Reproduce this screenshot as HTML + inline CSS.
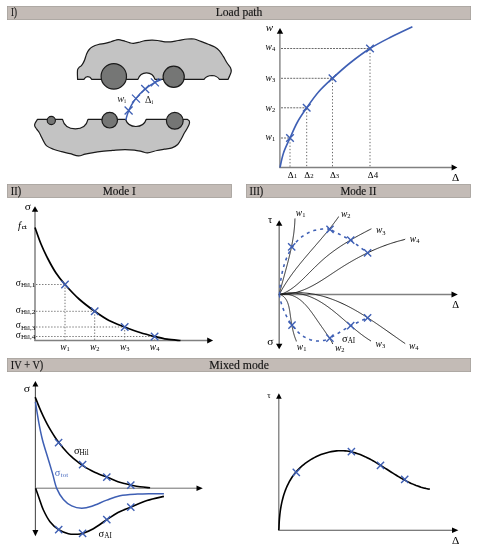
<!DOCTYPE html>
<html><head><meta charset="utf-8"><title>Load path and failure modes</title>
<style>
html,body{margin:0;padding:0;background:#fff;}
body{width:479px;height:550px;overflow:hidden;}
svg{display:block;font-family:'Liberation Serif', serif;}
</style></head>
<body>
<svg width="479" height="550" viewBox="0 0 479 550">
<rect width="479" height="550" fill="#fff"/>
<rect x="7.4" y="6.4" width="463.2" height="13.2" fill="#c3bbb6" stroke="#a39e99" stroke-width="0.8"/>
<text x="11" y="16.2" font-size="11.8" textLength="6" lengthAdjust="spacingAndGlyphs" fill="#141414" stroke="#141414" stroke-width="0.15">I)</text>
<text x="215.7" y="16.2" font-size="11.8" textLength="46.7" lengthAdjust="spacingAndGlyphs" fill="#141414" stroke="#141414" stroke-width="0.15">Load path</text>
<rect x="7.4" y="184.4" width="224.2" height="13.2" fill="#c3bbb6" stroke="#a39e99" stroke-width="0.8"/>
<text x="10.8" y="194.8" font-size="11.8" textLength="10.3" lengthAdjust="spacingAndGlyphs" fill="#141414" stroke="#141414" stroke-width="0.15">II)</text>
<text x="102.8" y="194.8" font-size="11.8" textLength="33" lengthAdjust="spacingAndGlyphs" fill="#141414" stroke="#141414" stroke-width="0.15">Mode I</text>
<rect x="246.4" y="184.4" width="224.2" height="13.2" fill="#c3bbb6" stroke="#a39e99" stroke-width="0.8"/>
<text x="249.5" y="194.8" font-size="11.8" textLength="13.8" lengthAdjust="spacingAndGlyphs" fill="#141414" stroke="#141414" stroke-width="0.15">III)</text>
<text x="340.4" y="194.8" font-size="11.8" textLength="36.05" lengthAdjust="spacingAndGlyphs" fill="#141414" stroke="#141414" stroke-width="0.15">Mode II</text>
<rect x="7.4" y="358.4" width="463.2" height="13.2" fill="#c3bbb6" stroke="#a39e99" stroke-width="0.8"/>
<text x="10.85" y="368.6" font-size="11.8" textLength="32.45" lengthAdjust="spacingAndGlyphs" fill="#141414" stroke="#141414" stroke-width="0.15">IV + V)</text>
<text x="209.3" y="368.6" font-size="11.8" textLength="59.6" lengthAdjust="spacingAndGlyphs" fill="#141414" stroke="#141414" stroke-width="0.15">Mixed mode</text>
<path d="M77.6,79.4 C77.57,78.33 77.38,74.67 77.4,73 C77.42,71.33 77.38,70.37 77.7,69.4 C78.02,68.43 78.68,67.83 79.3,67.2 C79.92,66.57 80.72,66.37 81.4,65.6 C82.08,64.83 82.83,63.62 83.4,62.6 C83.97,61.58 84.25,60.98 84.8,59.5 C85.35,58.02 85.97,55.37 86.7,53.7 C87.43,52.03 88.23,50.67 89.2,49.5 C90.17,48.33 90.97,47.53 92.5,46.7 C94.03,45.87 96.32,45.05 98.4,44.5 C100.48,43.95 102.92,43.87 105,43.4 C107.08,42.93 108.95,42.3 110.9,41.7 C112.85,41.1 115.17,40.12 116.7,39.8 C118.23,39.48 118.7,39.57 120.1,39.8 C121.5,40.03 123.43,40.68 125.1,41.2 C126.77,41.72 128.72,42.53 130.1,42.9 C131.48,43.27 132.02,43.48 133.4,43.4 C134.78,43.32 136.45,42.85 138.4,42.4 C140.35,41.95 142.87,41.07 145.1,40.7 C147.33,40.33 149.73,40.23 151.8,40.2 C153.87,40.17 155.3,40.23 157.5,40.5 C159.7,40.77 162.8,41.58 165,41.8 C167.2,42.02 168.5,42.02 170.7,41.8 C172.9,41.58 175.38,40.97 178.2,40.5 C181.02,40.03 184.93,39.25 187.6,39 C190.27,38.75 192,38.6 194.2,39 C196.4,39.4 198.45,40.53 200.8,41.4 C203.15,42.27 205.97,43.27 208.3,44.2 C210.63,45.13 212.93,45.9 214.8,47 C216.67,48.1 218.08,49.23 219.5,50.8 C220.92,52.37 222.03,54.37 223.3,56.4 C224.57,58.43 225.9,61.12 227.1,63 C228.3,64.88 229.82,66.28 230.5,67.7 C231.18,69.12 231.3,70.25 231.2,71.5 C231.1,72.75 230.43,73.88 229.9,75.2 C229.37,76.52 228.32,78.7 228,79.4 L219.5,79.4 C217.5,76.5 214.5,75.6 212,75.5 C209,75.5 206,76.5 204,79.4 L155,79.4 C153.8,75.6 151,72.9 146.5,72.9 C142,72.9 139.2,75.6 137.9,79.4 L91.8,79.4 C90.8,77.6 89.3,76.6 87.8,76.6 C86.2,76.6 84.9,77.6 83.9,79.4 Z" fill="#c3c3c3" stroke="#1a1a1a" stroke-width="1.2" stroke-linejoin="round"/>
<circle cx="113.8" cy="76.4" r="12.7" fill="#757675" stroke="#1a1a1a" stroke-width="1.2"/>
<circle cx="173.7" cy="76.8" r="10.6" fill="#757675" stroke="#1a1a1a" stroke-width="1.2"/>
<path d="M37.5,119.3 L62.5,119.3 C63.8,124.8 68,128.8 75.4,128.8 C82.8,128.8 86.8,124.8 88,119.3 L125.5,119.3 C127,123.8 130.5,126.5 135.9,126.5 C141.3,126.5 144.8,123.8 146.3,119.3 L187.1,119.3  C187.47,119.58 188.93,120.25 189.3,121 C189.67,121.75 189.67,122.55 189.3,123.8 C188.93,125.05 187.95,126.93 187.1,128.5 C186.25,130.07 185.15,131.48 184.2,133.2 C183.25,134.92 182.48,136.92 181.4,138.8 C180.32,140.68 179.27,142.98 177.7,144.5 C176.13,146.02 174.2,147.12 172,147.9 C169.8,148.68 167,148.77 164.5,149.2 C162,149.63 159.82,149.88 157,150.5 C154.18,151.12 150.1,152.72 147.6,152.9 C145.1,153.08 144.2,152.07 142,151.6 C139.8,151.13 137.23,150.42 134.4,150.1 C131.57,149.78 128.13,149.7 125,149.7 C121.87,149.7 118.1,149.93 115.6,150.1 C113.1,150.27 112.3,150.48 110,150.7 C107.7,150.92 104.57,151.08 101.8,151.4 C99.03,151.72 96.18,152.13 93.4,152.6 C90.62,153.07 87.6,153.65 85.1,154.2 C82.6,154.75 80.9,155.98 78.4,155.9 C75.9,155.82 72.88,154.4 70.1,153.7 C67.32,153 64.48,152.45 61.7,151.7 C58.92,150.95 55.9,150.17 53.4,149.2 C50.9,148.23 48.37,147.28 46.7,145.9 C45.03,144.52 44.37,142.57 43.4,140.9 C42.43,139.23 41.6,137.3 40.9,135.9 C40.2,134.5 39.9,133.62 39.2,132.5 C38.5,131.38 37.45,130.3 36.7,129.2 C35.95,128.1 34.98,126.87 34.7,125.9 C34.42,124.93 34.53,124.5 35,123.4 C35.47,122.3 37.08,119.98 37.5,119.3 Z" fill="#c3c3c3" stroke="#1a1a1a" stroke-width="1.2" stroke-linejoin="round"/>
<circle cx="51.3" cy="120.5" r="4.1" fill="#757675" stroke="#1a1a1a" stroke-width="1.1"/>
<circle cx="109.7" cy="120.2" r="7.8" fill="#757675" stroke="#1a1a1a" stroke-width="1.2"/>
<circle cx="174.8" cy="120.8" r="8.4" fill="#757675" stroke="#1a1a1a" stroke-width="1.2"/>
<path d="M126,120 L126.12,119.03 L126.33,118.11 L126.56,117.19 L126.8,116.27 L127.07,115.36 L127.35,114.46 L127.65,113.56 L127.97,112.67 L128.3,111.79 L128.66,110.91 L129.03,110.04 L129.41,109.17 L129.81,108.32 L130.23,107.47 L130.67,106.62 L131.12,105.79 L131.58,104.96 L132.06,104.14 L132.56,103.33 L133.07,102.52 L133.59,101.73 L134.13,100.94 L134.68,100.17 L135.24,99.4 L135.82,98.64 L136.41,97.89 L137.01,97.15 L137.63,96.42 L138.26,95.7 L138.9,94.98 L139.55,94.28 L140.21,93.59 L140.88,92.91 L141.57,92.24 L142.26,91.59 L142.97,90.94 L143.68,90.3 L144.41,89.68 L145.14,89.07 L145.89,88.47 L146.64,87.88 L147.4,87.3 L148.17,86.73 L148.95,86.18 L149.73,85.64 L150.53,85.12 L151.33,84.6 L152.14,84.1 L152.95,83.61 L153.77,83.14 L154.6,82.68 L155.43,82.23 L156.27,81.8 L157.12,81.38 L157.97,80.98 L158.82,80.59 L159.68,80.22 L160.55,79.86 L161.5,79.6" fill="none" stroke="#3e5fb4" stroke-width="1.5"/>
<path d="M124.6,106.5 L132.6,114.5 M124.6,114.5 L132.6,106.5" stroke="#3e5fb4" stroke-width="1.3" fill="none"/>
<path d="M132,94.6 L140,102.6 M132,102.6 L140,94.6" stroke="#3e5fb4" stroke-width="1.3" fill="none"/>
<path d="M141.2,85 L149.2,93 M141.2,93 L149.2,85" stroke="#3e5fb4" stroke-width="1.3" fill="none"/>
<path d="M150.9,78.4 L158.9,86.4 M150.9,86.4 L158.9,78.4" stroke="#3e5fb4" stroke-width="1.3" fill="none"/>
<text x="117.3" y="101.8" font-size="10.5" fill="#222"><tspan font-style="italic">w</tspan><tspan font-size="6" dy="1.2" font-style="normal">i</tspan></text>
<text x="145" y="103.1" font-size="10" fill="#222">&#916;<tspan font-size="6" dy="0.6">i</tspan></text>
<line x1="279.9" y1="168" x2="279.9" y2="32" stroke="#8a8a8a" stroke-width="1.5" />
<path d="M280,28 L276.8,33.7 L283.2,33.7 Z" fill="#000"/>
<line x1="279.3" y1="167.6" x2="453" y2="167.6" stroke="#808080" stroke-width="1.5" />
<path d="M457.4,167.6 L451.6,164.6 L451.6,170.6 Z" fill="#000"/>
<line x1="281" y1="138" x2="290" y2="138" stroke="#6a6a6a" stroke-width="1" stroke-dasharray="2 1.06"/>
<line x1="290" y1="139" x2="290" y2="167" stroke="#666" stroke-width="1" stroke-dasharray="1.3 2.0"/>
<line x1="281" y1="107.8" x2="306.7" y2="107.8" stroke="#6a6a6a" stroke-width="1" stroke-dasharray="2 1.06"/>
<line x1="306.7" y1="108.8" x2="306.7" y2="167" stroke="#666" stroke-width="1" stroke-dasharray="1.3 2.0"/>
<line x1="281" y1="78.3" x2="332.5" y2="78.3" stroke="#6a6a6a" stroke-width="1" stroke-dasharray="2 1.06"/>
<line x1="332.5" y1="79.3" x2="332.5" y2="167" stroke="#666" stroke-width="1" stroke-dasharray="1.3 2.0"/>
<line x1="281" y1="48.5" x2="370" y2="48.5" stroke="#6a6a6a" stroke-width="1" stroke-dasharray="2 1.06"/>
<line x1="370" y1="49.5" x2="370" y2="167" stroke="#666" stroke-width="1" stroke-dasharray="1.3 2.0"/>
<path d="M280,167.5 C280.58,165.08 281.83,157.92 283.5,153 C285.17,148.08 287.67,143.17 290,138 C292.33,132.83 294.72,127.03 297.5,122 C300.28,116.97 303.2,112.8 306.7,107.8 C310.2,102.8 314.2,96.92 318.5,92 C322.8,87.08 327.25,83.13 332.5,78.3 C337.75,73.47 343.75,67.97 350,63 C356.25,58.03 363.17,52.83 370,48.5 C376.83,44.17 383.93,40.63 391,37 C398.07,33.37 408.83,28.42 412.4,26.7" fill="none" stroke="#3e5fb4" stroke-width="1.6"/>
<path d="M286.2,134.2 L293.8,141.8 M286.2,141.8 L293.8,134.2" stroke="#3e5fb4" stroke-width="1.4" fill="none"/>
<path d="M302.9,104 L310.5,111.6 M302.9,111.6 L310.5,104" stroke="#3e5fb4" stroke-width="1.4" fill="none"/>
<path d="M328.7,74.5 L336.3,82.1 M328.7,82.1 L336.3,74.5" stroke="#3e5fb4" stroke-width="1.4" fill="none"/>
<path d="M366.2,44.7 L373.8,52.3 M366.2,52.3 L373.8,44.7" stroke="#3e5fb4" stroke-width="1.4" fill="none"/>
<text x="265.8" y="30.9" font-size="11" text-anchor="start" fill="#000" font-style="italic" >w</text>
<text x="265.6" y="139.8" font-size="9.5" fill="#000"><tspan font-style="italic">w</tspan><tspan font-size="6.5" dy="1" font-style="normal">1</tspan></text>
<text x="265.6" y="111" font-size="9.5" fill="#000"><tspan font-style="italic">w</tspan><tspan font-size="6.5" dy="1" font-style="normal">2</tspan></text>
<text x="265.6" y="80.6" font-size="9.5" fill="#000"><tspan font-style="italic">w</tspan><tspan font-size="6.5" dy="1" font-style="normal">3</tspan></text>
<text x="265.6" y="49.9" font-size="9.5" fill="#000"><tspan font-style="italic">w</tspan><tspan font-size="6.5" dy="1" font-style="normal">4</tspan></text>
<text x="287.8" y="177.6" font-size="9.2" fill="#000">&#916;<tspan font-size="6.8" dy="0.8">1</tspan></text>
<text x="304.3" y="177.6" font-size="9.2" fill="#000">&#916;<tspan font-size="6.8" dy="0.8">2</tspan></text>
<text x="329.9" y="177.6" font-size="9.2" fill="#000">&#916;<tspan font-size="6.8" dy="0.8">3</tspan></text>
<text x="373" y="178.3" font-size="9" text-anchor="middle" fill="#000" >&#916;4</text>
<text x="451.9" y="180.6" font-size="10" text-anchor="start" fill="#000" textLength="7.2" lengthAdjust="spacingAndGlyphs">&#916;</text>
<line x1="35" y1="341" x2="35" y2="210" stroke="#808080" stroke-width="1.5" />
<path d="M35,206.3 L31.8,211.7 L38.2,211.7 Z" fill="#000"/>
<line x1="34.3" y1="340.5" x2="209" y2="340.5" stroke="#808080" stroke-width="1.5" />
<path d="M213.1,340.5 L207.2,337.5 L207.2,343.5 Z" fill="#000"/>
<line x1="36" y1="284.5" x2="65" y2="284.5" stroke="#777" stroke-width="1" stroke-dasharray="1.4 1.63"/>
<line x1="65" y1="284.5" x2="65" y2="340" stroke="#777" stroke-width="1" stroke-dasharray="1.4 1.63"/>
<line x1="36" y1="311.3" x2="94.7" y2="311.3" stroke="#777" stroke-width="1" stroke-dasharray="1.4 1.63"/>
<line x1="94.7" y1="311.3" x2="94.7" y2="340" stroke="#777" stroke-width="1" stroke-dasharray="1.4 1.63"/>
<line x1="36" y1="327" x2="124.7" y2="327" stroke="#777" stroke-width="1" stroke-dasharray="1.4 1.63"/>
<line x1="124.7" y1="327" x2="124.7" y2="340" stroke="#777" stroke-width="1" stroke-dasharray="1.4 1.63"/>
<line x1="36" y1="336.5" x2="154.6" y2="336.5" stroke="#777" stroke-width="1" stroke-dasharray="1.4 1.63"/>
<line x1="154.6" y1="336.5" x2="154.6" y2="340" stroke="#777" stroke-width="1" stroke-dasharray="1.4 1.63"/>
<path d="M35,227.5 C36,230.25 38.83,238.75 41,244 C43.17,249.25 45.5,254.17 48,259 C50.5,263.83 53.17,268.75 56,273 C58.83,277.25 61.17,280.17 65,284.5 C68.83,288.83 74.05,294.53 79,299 C83.95,303.47 89.7,307.72 94.7,311.3 C99.7,314.88 104,317.88 109,320.5 C114,323.12 119.53,325 124.7,327 C129.87,329 135.02,330.92 140,332.5 C144.98,334.08 150.1,335.38 154.6,336.5 C159.1,337.62 162.68,338.53 167,339.2 C171.32,339.87 178.25,340.28 180.5,340.5" fill="none" stroke="#000" stroke-width="1.7"/>
<path d="M61.3,280.8 L68.7,288.2 M61.3,288.2 L68.7,280.8" stroke="#3e5fb4" stroke-width="1.4" fill="none"/>
<path d="M91,307.6 L98.4,315 M91,315 L98.4,307.6" stroke="#3e5fb4" stroke-width="1.4" fill="none"/>
<path d="M121,323.3 L128.4,330.7 M121,330.7 L128.4,323.3" stroke="#3e5fb4" stroke-width="1.4" fill="none"/>
<path d="M150.9,332.8 L158.3,340.2 M150.9,340.2 L158.3,332.8" stroke="#3e5fb4" stroke-width="1.4" fill="none"/>
<text x="24.8" y="210.3" font-size="11" text-anchor="start" fill="#000" textLength="6.2" lengthAdjust="spacingAndGlyphs">&#963;</text>
<text x="17.9" y="228.6" font-size="10.5" fill="#000"><tspan font-style="italic">f</tspan><tspan font-size="6.6" dx="0.9" dy="0.5" stroke="#000" stroke-width="0.2">ct</tspan></text>
<text x="15.8" y="285.8" font-size="9.5" fill="#000">&#963;<tspan font-size="6.6" dy="1.6" textLength="14.4" lengthAdjust="spacingAndGlyphs">Hil,1</tspan></text>
<text x="15.8" y="312.6" font-size="9.5" fill="#000">&#963;<tspan font-size="6.6" dy="1.6" textLength="14.4" lengthAdjust="spacingAndGlyphs">Hil,2</tspan></text>
<text x="15.8" y="328.3" font-size="9.5" fill="#000">&#963;<tspan font-size="6.6" dy="1.6" textLength="14.4" lengthAdjust="spacingAndGlyphs">Hil,3</tspan></text>
<text x="15.8" y="337.8" font-size="9.5" fill="#000">&#963;<tspan font-size="6.6" dy="1.6" textLength="14.4" lengthAdjust="spacingAndGlyphs">Hil,4</tspan></text>
<text x="65" y="349.5" font-size="9.5" fill="#000" text-anchor="middle"><tspan font-style="italic">w</tspan><tspan font-size="6.5" dy="1.2" font-style="normal">1</tspan></text>
<text x="94.7" y="349.5" font-size="9.5" fill="#000" text-anchor="middle"><tspan font-style="italic">w</tspan><tspan font-size="6.5" dy="1.2" font-style="normal">2</tspan></text>
<text x="124.7" y="349.5" font-size="9.5" fill="#000" text-anchor="middle"><tspan font-style="italic">w</tspan><tspan font-size="6.5" dy="1.2" font-style="normal">3</tspan></text>
<text x="154.6" y="349.5" font-size="9.5" fill="#000" text-anchor="middle"><tspan font-style="italic">w</tspan><tspan font-size="6.5" dy="1.2" font-style="normal">4</tspan></text>
<line x1="279.2" y1="224" x2="279.2" y2="346" stroke="#808080" stroke-width="1.5" />
<path d="M279.2,220.3 L276,225.8 L282.4,225.8 Z" fill="#000"/>
<path d="M279.2,349.2 L276,343.7 L282.4,343.7 Z" fill="#000"/>
<line x1="278.5" y1="294.6" x2="453" y2="294.6" stroke="#808080" stroke-width="1.5" />
<path d="M457.8,294.6 L451.5,291.6 L451.5,297.6 Z" fill="#000"/>
<path d="M279.2,294.6 L279.34,293.96 L279.5,293.33 L279.66,292.7 L279.82,292.06 L279.99,291.43 L280.15,290.8 L280.32,290.16 L280.48,289.53 L280.65,288.9 L280.81,288.26 L280.98,287.63 L281.15,287 L281.32,286.37 L281.49,285.73 L281.66,285.1 L281.83,284.47 L282,283.84 L282.17,283.21 L282.35,282.57 L282.52,281.94 L282.69,281.31 L282.86,280.68 L283.04,280.05 L283.21,279.41 L283.38,278.78 L283.56,278.15 L283.73,277.52 L283.91,276.89 L284.08,276.26 L284.25,275.62 L284.43,274.99 L284.6,274.36 L284.78,273.73 L284.95,273.1 L285.12,272.46 L285.29,271.83 L285.47,271.2 L285.64,270.57 L285.81,269.93 L285.98,269.3 L286.15,268.67 L286.33,268.04 L286.5,267.4 L286.67,266.77 L286.83,266.14 L287,265.5 L287.17,264.87 L287.34,264.24 L287.5,263.6 L287.67,262.97 L287.83,262.34 L288,261.7 L288.16,261.07 L288.32,260.43 L288.48,259.8 L288.64,259.16 L288.8,258.53 L288.96,257.89 L289.11,257.26 L289.27,256.62 L289.42,255.98 L289.58,255.35 L289.73,254.71 L289.88,254.08 L290.03,253.44 L290.17,252.8 L290.32,252.16 L290.46,251.53 L290.61,250.89 L290.75,250.25 L290.89,249.61 L291.03,248.97 L291.16,248.33 L291.3,247.69 L291.43,247.05 L291.56,246.41 L291.69,245.77 L291.82,245.13 L291.94,244.49 L292.07,243.85 L292.19,243.21 L292.31,242.57 L292.42,241.92 L292.54,241.28 L292.65,240.64 L292.76,239.99 L292.87,239.35 L292.98,238.7 L293.08,238.06 L293.18,237.41 L293.28,236.77 L293.38,236.12 L293.47,235.47 L293.57,234.83 L293.66,234.18 L293.74,233.53 L293.83,232.88 L293.91,232.23 L293.99,231.58 L294.06,230.93 L294.14,230.28 L294.21,229.63 L294.28,228.98 L294.34,228.33 L294.4,227.68 L294.46,227.02 L294.52,226.37 L294.57,225.72 L294.62,225.06 L294.67,224.41 L294.71,223.75 L294.75,223.1 L294.79,222.44 L294.82,221.78 L294.85,221.12 L294.88,220.47 L294.9,219.81 L294.92,219.15 L295,218.5" fill="none" stroke="#222" stroke-width="1"/>
<path d="M279.2,294.6 L279.58,293.88 L279.97,293.14 L280.36,292.41 L280.76,291.68 L281.16,290.96 L281.57,290.23 L281.98,289.51 L282.39,288.8 L282.81,288.08 L283.23,287.37 L283.66,286.66 L284.09,285.95 L284.52,285.25 L284.96,284.55 L285.4,283.85 L285.84,283.15 L286.29,282.46 L286.74,281.77 L287.2,281.08 L287.65,280.39 L288.12,279.71 L288.58,279.03 L289.05,278.35 L289.52,277.67 L289.99,277 L290.46,276.32 L290.94,275.65 L291.42,274.98 L291.91,274.31 L292.39,273.65 L292.88,272.98 L293.37,272.32 L293.87,271.66 L294.36,271 L294.86,270.35 L295.36,269.69 L295.87,269.04 L296.37,268.39 L296.88,267.73 L297.39,267.09 L297.9,266.44 L298.41,265.79 L298.93,265.15 L299.44,264.5 L299.96,263.86 L300.48,263.22 L301,262.58 L301.53,261.94 L302.05,261.3 L302.58,260.67 L303.1,260.03 L303.63,259.39 L304.16,258.76 L304.69,258.13 L305.22,257.49 L305.76,256.86 L306.29,256.23 L306.83,255.6 L307.36,254.97 L307.9,254.34 L308.43,253.71 L308.97,253.09 L309.51,252.46 L310.05,251.83 L310.59,251.21 L311.13,250.58 L311.67,249.95 L312.21,249.33 L312.75,248.7 L313.29,248.08 L313.83,247.45 L314.37,246.83 L314.91,246.2 L315.45,245.58 L315.99,244.95 L316.53,244.33 L317.07,243.7 L317.61,243.07 L318.15,242.45 L318.68,241.82 L319.22,241.2 L319.76,240.57 L320.29,239.94 L320.83,239.32 L321.37,238.69 L321.9,238.06 L322.43,237.43 L322.96,236.8 L323.5,236.17 L324.03,235.54 L324.55,234.91 L325.08,234.27 L325.61,233.64 L326.13,233.01 L326.66,232.37 L327.18,231.73 L327.7,231.1 L328.22,230.46 L328.74,229.82 L329.25,229.18 L329.76,228.54 L330.28,227.89 L330.79,227.25 L331.29,226.6 L331.8,225.96 L332.3,225.31 L332.81,224.66 L333.3,224.01 L333.8,223.36 L334.3,222.7 L334.79,222.05 L335.28,221.39 L335.77,220.73 L336.25,220.07 L336.73,219.41 L337.21,218.74 L337.69,218.08 L338.16,217.41 L338.5,216.6" fill="none" stroke="#222" stroke-width="1"/>
<path d="M279.2,294.6 L280.33,294.59 L281.25,294.26 L282.15,293.9 L283.04,293.53 L283.92,293.14 L284.78,292.74 L285.64,292.31 L286.48,291.87 L287.31,291.42 L288.13,290.95 L288.94,290.46 L289.74,289.96 L290.53,289.45 L291.31,288.92 L292.08,288.38 L292.84,287.83 L293.6,287.27 L294.34,286.7 L295.08,286.11 L295.82,285.52 L296.54,284.92 L297.27,284.31 L297.98,283.69 L298.69,283.06 L299.4,282.42 L300.1,281.78 L300.79,281.13 L301.49,280.48 L302.18,279.82 L302.86,279.16 L303.55,278.49 L304.23,277.82 L304.91,277.15 L305.59,276.47 L306.27,275.8 L306.95,275.12 L307.63,274.44 L308.31,273.76 L308.99,273.08 L309.67,272.39 L310.35,271.71 L311.03,271.03 L311.71,270.35 L312.39,269.67 L313.07,268.99 L313.76,268.32 L314.44,267.64 L315.13,266.97 L315.82,266.29 L316.51,265.62 L317.21,264.96 L317.91,264.29 L318.6,263.63 L319.31,262.97 L320.01,262.31 L320.72,261.66 L321.43,261.01 L322.14,260.37 L322.86,259.73 L323.59,259.09 L324.31,258.46 L325.04,257.84 L325.78,257.22 L326.51,256.6 L327.26,255.99 L328,255.39 L328.75,254.79 L329.51,254.19 L330.27,253.6 L331.03,253.02 L331.8,252.44 L332.57,251.86 L333.34,251.29 L334.12,250.72 L334.9,250.16 L335.68,249.6 L336.47,249.05 L337.26,248.5 L338.05,247.96 L338.85,247.42 L339.65,246.88 L340.45,246.35 L341.25,245.82 L342.06,245.29 L342.87,244.77 L343.68,244.25 L344.5,243.74 L345.31,243.23 L346.13,242.72 L346.96,242.22 L347.78,241.72 L348.61,241.22 L349.43,240.73 L350.26,240.24 L351.1,239.75 L351.93,239.27 L352.76,238.79 L353.6,238.31 L354.44,237.83 L355.28,237.36 L356.12,236.89 L356.96,236.42 L357.81,235.95 L358.65,235.49 L359.5,235.03 L360.34,234.57 L361.19,234.11 L362.04,233.66 L362.89,233.21 L363.74,232.76 L364.59,232.31 L365.44,231.86 L366.29,231.42 L367.14,230.97 L367.99,230.53 L368.84,230.09 L369.69,229.65 L370.55,229.22 L371.4,228.8" fill="none" stroke="#222" stroke-width="1"/>
<path d="M279.2,294.6 L280.34,294.55 L281.58,294.55 L282.81,294.51 L284.03,294.45 L285.24,294.37 L286.44,294.26 L287.63,294.13 L288.81,293.97 L289.99,293.79 L291.15,293.58 L292.3,293.36 L293.44,293.11 L294.58,292.84 L295.7,292.55 L296.82,292.24 L297.93,291.91 L299.03,291.57 L300.13,291.2 L301.21,290.82 L302.29,290.42 L303.37,290 L304.43,289.57 L305.49,289.12 L306.55,288.66 L307.6,288.18 L308.64,287.69 L309.68,287.18 L310.71,286.67 L311.74,286.14 L312.76,285.6 L313.78,285.05 L314.79,284.48 L315.8,283.91 L316.81,283.33 L317.81,282.74 L318.81,282.15 L319.8,281.54 L320.8,280.93 L321.79,280.31 L322.78,279.69 L323.76,279.06 L324.75,278.42 L325.73,277.79 L326.71,277.15 L327.69,276.5 L328.67,275.85 L329.65,275.21 L330.63,274.55 L331.61,273.9 L332.58,273.25 L333.56,272.6 L334.54,271.95 L335.52,271.3 L336.5,270.66 L337.48,270.01 L338.46,269.37 L339.45,268.74 L340.44,268.11 L341.42,267.48 L342.41,266.85 L343.4,266.23 L344.4,265.61 L345.39,265 L346.39,264.39 L347.39,263.79 L348.39,263.19 L349.39,262.6 L350.4,262.01 L351.41,261.42 L352.42,260.84 L353.43,260.26 L354.44,259.69 L355.46,259.12 L356.48,258.56 L357.5,258.01 L358.52,257.45 L359.55,256.91 L360.57,256.36 L361.6,255.83 L362.64,255.3 L363.67,254.77 L364.71,254.25 L365.75,253.74 L366.8,253.23 L367.84,252.72 L368.89,252.22 L369.95,251.73 L371,251.24 L372.06,250.76 L373.12,250.29 L374.18,249.82 L375.25,249.36 L376.32,248.9 L377.39,248.45 L378.47,248.01 L379.55,247.57 L380.63,247.14 L381.72,246.71 L382.81,246.29 L383.9,245.88 L385,245.47 L386.1,245.07 L387.2,244.68 L388.31,244.3 L389.42,243.92 L390.53,243.55 L391.65,243.18 L392.77,242.82 L393.89,242.47 L395.02,242.13 L396.15,241.79 L397.29,241.46 L398.43,241.14 L399.57,240.83 L400.72,240.52 L401.87,240.22 L403.02,239.93 L404.18,239.65 L405.2,239.1" fill="none" stroke="#222" stroke-width="1"/>
<path d="M279.2,294.6 L279.96,294.35 L280.37,294.52 L280.77,294.71 L281.16,294.9 L281.53,295.1 L281.9,295.32 L282.25,295.54 L282.59,295.77 L282.92,296.02 L283.24,296.27 L283.55,296.52 L283.85,296.79 L284.14,297.07 L284.41,297.35 L284.68,297.64 L284.94,297.94 L285.19,298.24 L285.43,298.56 L285.67,298.88 L285.89,299.21 L286.11,299.54 L286.32,299.88 L286.52,300.23 L286.71,300.58 L286.89,300.94 L287.07,301.3 L287.24,301.67 L287.41,302.05 L287.56,302.43 L287.72,302.82 L287.86,303.21 L288,303.61 L288.13,304.01 L288.26,304.41 L288.38,304.82 L288.5,305.23 L288.62,305.65 L288.73,306.07 L288.83,306.5 L288.93,306.92 L289.03,307.35 L289.12,307.79 L289.21,308.22 L289.29,308.66 L289.38,309.1 L289.46,309.55 L289.54,309.99 L289.61,310.44 L289.68,310.89 L289.76,311.34 L289.83,311.79 L289.89,312.24 L289.96,312.69 L290.03,313.15 L290.09,313.6 L290.16,314.06 L290.22,314.51 L290.29,314.97 L290.35,315.42 L290.41,315.88 L290.48,316.33 L290.54,316.79 L290.61,317.24 L290.67,317.69 L290.74,318.15 L290.81,318.6 L290.87,319.05 L290.94,319.51 L291.01,319.96 L291.08,320.41 L291.14,320.86 L291.21,321.31 L291.28,321.76 L291.36,322.21 L291.43,322.66 L291.5,323.1 L291.58,323.55 L291.65,324 L291.73,324.44 L291.81,324.89 L291.89,325.33 L291.97,325.77 L292.05,326.22 L292.14,326.66 L292.22,327.1 L292.31,327.54 L292.4,327.97 L292.49,328.41 L292.58,328.85 L292.68,329.28 L292.77,329.71 L292.87,330.15 L292.97,330.58 L293.07,331.01 L293.18,331.44 L293.28,331.86 L293.39,332.29 L293.5,332.71 L293.62,333.14 L293.73,333.56 L293.85,333.98 L293.97,334.4 L294.1,334.82 L294.22,335.23 L294.35,335.64 L294.48,336.06 L294.62,336.47 L294.75,336.88 L294.9,337.28 L295.04,337.69 L295.19,338.09 L295.34,338.5 L295.49,338.9 L295.64,339.29 L295.8,339.69 L295.97,340.08 L296.13,340.48 L296.3,340.87 L296.3,341.4" fill="none" stroke="#222" stroke-width="1"/>
<path d="M279.2,294.6 L280.02,294.24 L280.74,294.15 L281.45,294.09 L282.16,294.04 L282.85,294.01 L283.53,294 L284.21,294 L284.88,294.03 L285.54,294.06 L286.19,294.12 L286.84,294.19 L287.47,294.27 L288.1,294.37 L288.72,294.49 L289.34,294.62 L289.95,294.77 L290.55,294.93 L291.14,295.1 L291.73,295.29 L292.31,295.49 L292.88,295.71 L293.45,295.94 L294.01,296.18 L294.56,296.43 L295.11,296.7 L295.65,296.98 L296.18,297.27 L296.71,297.57 L297.24,297.88 L297.75,298.2 L298.27,298.54 L298.77,298.89 L299.28,299.24 L299.77,299.61 L300.26,299.98 L300.75,300.37 L301.23,300.76 L301.71,301.17 L302.18,301.58 L302.65,302 L303.11,302.43 L303.57,302.86 L304.03,303.31 L304.48,303.76 L304.93,304.22 L305.37,304.69 L305.81,305.16 L306.24,305.64 L306.68,306.13 L307.1,306.62 L307.53,307.11 L307.95,307.62 L308.37,308.12 L308.79,308.64 L309.2,309.15 L309.61,309.68 L310.02,310.2 L310.43,310.73 L310.83,311.27 L311.23,311.8 L311.63,312.34 L312.03,312.88 L312.42,313.43 L312.81,313.98 L313.21,314.53 L313.6,315.08 L313.98,315.63 L314.37,316.18 L314.76,316.74 L315.14,317.3 L315.52,317.85 L315.91,318.41 L316.29,318.97 L316.67,319.52 L317.05,320.08 L317.43,320.63 L317.81,321.19 L318.19,321.74 L318.57,322.29 L318.95,322.84 L319.33,323.39 L319.71,323.93 L320.09,324.48 L320.46,325.02 L320.84,325.56 L321.22,326.1 L321.6,326.64 L321.97,327.18 L322.35,327.71 L322.73,328.25 L323.1,328.78 L323.47,329.31 L323.84,329.84 L324.21,330.37 L324.58,330.9 L324.95,331.43 L325.32,331.96 L325.68,332.49 L326.04,333.02 L326.4,333.55 L326.76,334.08 L327.12,334.6 L327.47,335.13 L327.83,335.66 L328.17,336.19 L328.52,336.72 L328.87,337.25 L329.21,337.78 L329.55,338.31 L329.88,338.84 L330.22,339.37 L330.55,339.9 L330.87,340.44 L331.2,340.97 L331.52,341.51 L331.84,342.04 L332.15,342.58 L332.46,343.12 L332.5,344" fill="none" stroke="#222" stroke-width="1"/>
<path d="M279.2,294.6 L280.16,294.32 L281.15,294.11 L282.14,293.92 L283.12,293.76 L284.09,293.61 L285.06,293.48 L286.02,293.37 L286.97,293.28 L287.92,293.2 L288.86,293.15 L289.8,293.11 L290.72,293.09 L291.64,293.09 L292.56,293.1 L293.47,293.13 L294.37,293.18 L295.27,293.24 L296.16,293.32 L297.05,293.42 L297.93,293.53 L298.8,293.66 L299.67,293.8 L300.53,293.95 L301.39,294.12 L302.24,294.31 L303.09,294.51 L303.93,294.72 L304.77,294.95 L305.6,295.19 L306.43,295.44 L307.25,295.71 L308.07,295.99 L308.89,296.28 L309.7,296.58 L310.5,296.89 L311.3,297.22 L312.1,297.56 L312.89,297.91 L313.68,298.27 L314.46,298.64 L315.24,299.02 L316.02,299.41 L316.79,299.81 L317.56,300.23 L318.33,300.65 L319.09,301.08 L319.85,301.52 L320.6,301.96 L321.35,302.42 L322.1,302.88 L322.85,303.36 L323.59,303.84 L324.33,304.32 L325.07,304.82 L325.8,305.32 L326.53,305.83 L327.26,306.35 L327.99,306.87 L328.71,307.4 L329.43,307.93 L330.15,308.47 L330.87,309.01 L331.59,309.56 L332.3,310.12 L333.01,310.68 L333.72,311.24 L334.43,311.81 L335.13,312.38 L335.84,312.95 L336.54,313.53 L337.24,314.11 L337.95,314.7 L338.64,315.28 L339.34,315.87 L340.04,316.46 L340.74,317.06 L341.43,317.65 L342.13,318.25 L342.82,318.85 L343.51,319.45 L344.2,320.05 L344.9,320.65 L345.59,321.25 L346.28,321.85 L346.97,322.45 L347.66,323.05 L348.35,323.64 L349.04,324.24 L349.73,324.84 L350.43,325.43 L351.12,326.03 L351.81,326.62 L352.5,327.21 L353.19,327.79 L353.89,328.38 L354.58,328.96 L355.28,329.54 L355.97,330.11 L356.67,330.68 L357.37,331.25 L358.07,331.81 L358.77,332.37 L359.47,332.92 L360.17,333.47 L360.87,334.01 L361.58,334.55 L362.29,335.08 L363,335.61 L363.71,336.13 L364.42,336.64 L365.14,337.15 L365.85,337.65 L366.57,338.15 L367.29,338.63 L368.02,339.11 L368.74,339.58 L369.47,340.04 L370.2,340.5 L371,341.1" fill="none" stroke="#222" stroke-width="1"/>
<path d="M279.2,294.6 L280.41,294.36 L281.64,294.13 L282.88,293.91 L284.11,293.71 L285.33,293.53 L286.56,293.37 L287.77,293.22 L288.99,293.1 L290.2,292.99 L291.4,292.89 L292.61,292.82 L293.8,292.76 L295,292.72 L296.19,292.69 L297.37,292.68 L298.56,292.69 L299.74,292.71 L300.91,292.75 L302.08,292.8 L303.25,292.87 L304.41,292.95 L305.57,293.05 L306.73,293.16 L307.88,293.29 L309.03,293.43 L310.18,293.58 L311.32,293.75 L312.46,293.94 L313.6,294.13 L314.73,294.34 L315.86,294.57 L316.98,294.8 L318.11,295.05 L319.23,295.31 L320.34,295.59 L321.45,295.87 L322.56,296.17 L323.67,296.48 L324.77,296.8 L325.87,297.14 L326.97,297.48 L328.06,297.83 L329.15,298.2 L330.24,298.58 L331.32,298.97 L332.4,299.36 L333.48,299.77 L334.56,300.19 L335.63,300.62 L336.7,301.06 L337.77,301.5 L338.83,301.96 L339.89,302.42 L340.95,302.9 L342.01,303.38 L343.06,303.87 L344.11,304.37 L345.16,304.88 L346.2,305.39 L347.24,305.91 L348.28,306.44 L349.32,306.98 L350.36,307.53 L351.39,308.08 L352.42,308.64 L353.45,309.2 L354.47,309.77 L355.49,310.35 L356.51,310.93 L357.53,311.52 L358.55,312.12 L359.56,312.72 L360.57,313.32 L361.58,313.93 L362.59,314.55 L363.59,315.17 L364.6,315.79 L365.6,316.42 L366.6,317.05 L367.59,317.69 L368.59,318.33 L369.58,318.98 L370.57,319.62 L371.56,320.27 L372.54,320.93 L373.53,321.58 L374.51,322.24 L375.49,322.9 L376.47,323.57 L377.45,324.23 L378.42,324.9 L379.4,325.57 L380.37,326.24 L381.34,326.91 L382.31,327.58 L383.28,328.26 L384.24,328.93 L385.21,329.61 L386.17,330.28 L387.13,330.96 L388.09,331.63 L389.05,332.31 L390,332.98 L390.96,333.66 L391.91,334.33 L392.87,335 L393.82,335.67 L394.77,336.34 L395.72,337.01 L396.66,337.68 L397.61,338.34 L398.56,339 L399.5,339.66 L400.44,340.32 L401.39,340.97 L402.33,341.63 L403.27,342.27 L404.21,342.92 L405.2,343.6" fill="none" stroke="#222" stroke-width="1"/>
<path d="M279.2,294.6 L279.6,293.8 L279.63,293.06 L279.66,292.31 L279.7,291.56 L279.74,290.81 L279.79,290.05 L279.84,289.29 L279.9,288.53 L279.96,287.76 L280.02,286.99 L280.09,286.21 L280.17,285.44 L280.25,284.66 L280.34,283.88 L280.43,283.09 L280.52,282.31 L280.63,281.52 L280.73,280.73 L280.85,279.94 L280.96,279.15 L281.09,278.36 L281.22,277.56 L281.35,276.77 L281.49,275.98 L281.64,275.18 L281.8,274.39 L281.96,273.6 L282.12,272.8 L282.29,272.01 L282.47,271.22 L282.66,270.43 L282.85,269.64 L283.05,268.85 L283.25,268.07 L283.46,267.29 L283.68,266.51 L283.91,265.73 L284.14,264.95 L284.38,264.18 L284.62,263.41 L284.87,262.64 L285.13,261.88 L285.4,261.12 L285.68,260.36 L285.96,259.61 L286.25,258.86 L286.55,258.11 L286.85,257.38 L287.16,256.64 L287.48,255.91 L287.81,255.19 L288.15,254.47 L288.49,253.76 L288.85,253.05 L289.21,252.35 L289.58,251.65 L289.95,250.97 L290.34,250.28 L290.73,249.61 L291.13,248.94 L291.55,248.28 L291.97,247.63 L292.39,246.98 L292.83,246.34 L293.28,245.72 L293.73,245.09 L294.2,244.48 L294.67,243.88 L295.15,243.28 L295.64,242.7 L296.15,242.12 L296.66,241.55 L297.18,241 L297.7,240.45 L298.24,239.91 L298.79,239.39 L299.35,238.87 L299.92,238.36 L300.5,237.87 L301.09,237.39 L301.68,236.92 L302.29,236.45 L302.9,236.01 L303.53,235.57 L304.16,235.14 L304.81,234.73 L305.46,234.33 L306.12,233.95 L306.79,233.57 L307.47,233.21 L308.15,232.86 L308.85,232.53 L309.55,232.21 L310.26,231.9 L310.98,231.61 L311.71,231.33 L312.45,231.06 L313.19,230.82 L313.94,230.58 L314.7,230.36 L315.46,230.16 L316.24,229.97 L317.02,229.79 L317.81,229.64 L318.6,229.5 L319.4,229.37 L320.21,229.26 L321.03,229.17 L321.85,229.09 L322.68,229.04 L323.51,228.99 L324.35,228.97 L325.2,228.96 L326.05,228.98 L326.91,229 L327.78,229.05 L328.65,229.12 L329.53,229.2 L330,229.3" fill="none" stroke="#3e5fb4" stroke-width="1.55" stroke-dasharray="3 4"/>
<path d="M279.2,294.6 L279.43,295.41 L279.53,295.98 L279.64,296.55 L279.75,297.13 L279.87,297.71 L280,298.29 L280.13,298.88 L280.27,299.47 L280.42,300.07 L280.57,300.67 L280.73,301.27 L280.89,301.87 L281.06,302.47 L281.24,303.08 L281.43,303.69 L281.62,304.3 L281.81,304.92 L282.02,305.53 L282.22,306.15 L282.44,306.76 L282.66,307.38 L282.89,308 L283.12,308.62 L283.36,309.23 L283.61,309.85 L283.86,310.47 L284.12,311.09 L284.38,311.71 L284.65,312.32 L284.93,312.94 L285.21,313.55 L285.5,314.16 L285.79,314.77 L286.09,315.38 L286.4,315.99 L286.71,316.59 L287.02,317.19 L287.35,317.79 L287.67,318.39 L288.01,318.98 L288.35,319.57 L288.69,320.16 L289.04,320.74 L289.4,321.32 L289.76,321.89 L290.13,322.46 L290.5,323.03 L290.88,323.59 L291.27,324.14 L291.66,324.69 L292.05,325.24 L292.45,325.77 L292.86,326.31 L293.27,326.83 L293.68,327.36 L294.11,327.87 L294.53,328.38 L294.96,328.88 L295.4,329.37 L295.84,329.86 L296.29,330.34 L296.74,330.81 L297.2,331.27 L297.67,331.73 L298.13,332.18 L298.61,332.62 L299.09,333.05 L299.57,333.47 L300.06,333.88 L300.55,334.28 L301.05,334.68 L301.55,335.06 L302.06,335.43 L302.57,335.8 L303.09,336.15 L303.61,336.49 L304.14,336.82 L304.67,337.14 L305.21,337.45 L305.75,337.75 L306.29,338.04 L306.84,338.31 L307.4,338.58 L307.96,338.83 L308.52,339.07 L309.09,339.29 L309.67,339.5 L310.24,339.7 L310.83,339.89 L311.41,340.06 L312,340.22 L312.6,340.37 L313.2,340.5 L313.8,340.62 L314.41,340.72 L315.03,340.81 L315.64,340.88 L316.26,340.94 L316.89,340.99 L317.52,341.01 L318.15,341.03 L318.79,341.02 L319.43,341 L320.08,340.96 L320.73,340.91 L321.38,340.84 L322.04,340.76 L322.71,340.65 L323.37,340.53 L324.04,340.39 L324.72,340.24 L325.4,340.06 L326.08,339.87 L326.76,339.66 L327.45,339.43 L328.15,339.18 L328.84,338.91 L329.55,338.63 L329.9,338.2" fill="none" stroke="#3e5fb4" stroke-width="1.55" stroke-dasharray="3 4"/>
<path d="M330,229.3 L350.7,240.1 L367.6,252.9" fill="none" stroke="#3e5fb4" stroke-width="1.55" stroke-dasharray="3 4" stroke-dashoffset="-2"/>
<path d="M329.9,338.2 L350.7,325.7 L367.6,317.8" fill="none" stroke="#3e5fb4" stroke-width="1.55" stroke-dasharray="3 4" stroke-dashoffset="-2"/>
<path d="M288.1,243.2 L295.3,250.4 M288.1,250.4 L295.3,243.2" stroke="#3e5fb4" stroke-width="1.4" fill="none"/>
<path d="M326.4,225.7 L333.6,232.9 M326.4,232.9 L333.6,225.7" stroke="#3e5fb4" stroke-width="1.4" fill="none"/>
<path d="M347.1,236.5 L354.3,243.7 M347.1,243.7 L354.3,236.5" stroke="#3e5fb4" stroke-width="1.4" fill="none"/>
<path d="M364,249.3 L371.2,256.5 M364,256.5 L371.2,249.3" stroke="#3e5fb4" stroke-width="1.4" fill="none"/>
<path d="M288.4,321.5 L295.6,328.7 M288.4,328.7 L295.6,321.5" stroke="#3e5fb4" stroke-width="1.4" fill="none"/>
<path d="M326.3,334.6 L333.5,341.8 M326.3,341.8 L333.5,334.6" stroke="#3e5fb4" stroke-width="1.4" fill="none"/>
<path d="M347.1,322.1 L354.3,329.3 M347.1,329.3 L354.3,322.1" stroke="#3e5fb4" stroke-width="1.4" fill="none"/>
<path d="M364,314.2 L371.2,321.4 M364,321.4 L371.2,314.2" stroke="#3e5fb4" stroke-width="1.4" fill="none"/>
<text x="268" y="222.6" font-size="10.5" text-anchor="start" fill="#000" >&#964;</text>
<text x="267.3" y="345.1" font-size="10.8" text-anchor="start" fill="#000" textLength="6.2" lengthAdjust="spacingAndGlyphs">&#963;</text>
<text x="452.3" y="308.3" font-size="10" text-anchor="start" fill="#000" textLength="6.8" lengthAdjust="spacingAndGlyphs">&#916;</text>
<text x="295.8" y="215.8" font-size="9.5" fill="#000"><tspan font-style="italic">w</tspan><tspan font-size="6.5" dy="1.2" font-style="normal">1</tspan></text>
<text x="340.9" y="217.1" font-size="9.5" fill="#000"><tspan font-style="italic">w</tspan><tspan font-size="6.5" dy="1.2" font-style="normal">2</tspan></text>
<text x="376" y="233.4" font-size="9.5" fill="#000"><tspan font-style="italic">w</tspan><tspan font-size="6.5" dy="1.2" font-style="normal">3</tspan></text>
<text x="409.8" y="241.8" font-size="9.5" fill="#000"><tspan font-style="italic">w</tspan><tspan font-size="6.5" dy="1.2" font-style="normal">4</tspan></text>
<text x="296.8" y="350" font-size="9.5" fill="#000"><tspan font-style="italic">w</tspan><tspan font-size="6.5" dy="1.2" font-style="normal">1</tspan></text>
<text x="335" y="350.5" font-size="9.5" fill="#000"><tspan font-style="italic">w</tspan><tspan font-size="6.5" dy="1.2" font-style="normal">2</tspan></text>
<text x="375.6" y="347" font-size="9.5" fill="#000"><tspan font-style="italic">w</tspan><tspan font-size="6.5" dy="1.2" font-style="normal">3</tspan></text>
<text x="409" y="348.5" font-size="9.5" fill="#000"><tspan font-style="italic">w</tspan><tspan font-size="6.5" dy="1.2" font-style="normal">4</tspan></text>
<text x="342" y="341.9" font-size="10.5" fill="#000">&#963;<tspan font-size="7.2" dy="0.9">AI</tspan></text>
<line x1="35.4" y1="384" x2="35.4" y2="532" stroke="#505050" stroke-width="1.1" />
<path d="M35.4,381 L32.4,386.6 L38.4,386.6 Z" fill="#000"/>
<path d="M35.4,536.2 L32.4,530 L38.4,530 Z" fill="#000"/>
<line x1="35" y1="488.2" x2="198" y2="488.2" stroke="#6e6e6e" stroke-width="1" />
<path d="M202.8,488.2 L196.5,485.4 L196.5,491 Z" fill="#000"/>
<path d="M35.2,397.1 C35.87,398.78 37.87,403.99 39.2,407.15 C40.53,410.32 41.87,413.28 43.2,416.1 C44.53,418.92 45.87,421.55 47.2,424.06 C48.53,426.56 49.87,428.91 51.2,431.14 C52.53,433.37 53.87,435.46 55.2,437.44 C56.53,439.43 57.87,441.28 59.2,443.05 C60.53,444.81 61.87,446.46 63.2,448.04 C64.53,449.61 65.87,451.08 67.2,452.47 C68.53,453.87 69.87,455.18 71.2,456.42 C72.53,457.67 73.87,458.83 75.2,459.94 C76.53,461.04 77.87,462.08 79.2,463.06 C80.53,464.05 81.87,464.97 83.2,465.85 C84.53,466.72 85.87,467.54 87.2,468.32 C88.53,469.1 89.87,469.83 91.2,470.52 C92.53,471.22 93.87,471.87 95.2,472.48 C96.53,473.1 97.87,473.68 99.2,474.23 C100.53,474.78 101.87,475.29 103.2,475.78 C104.53,476.27 105.82,476.61 107.2,477.16 C108.58,477.71 109.7,478.34 111.5,479.1 C113.3,479.86 115.83,480.95 118,481.7 C120.17,482.45 122.37,483.03 124.5,483.6 C126.63,484.17 128.22,484.57 130.8,485.1 C133.38,485.63 136.78,486.35 140,486.8 C143.22,487.25 148.42,487.63 150.1,487.8" fill="none" stroke="#000" stroke-width="1.6"/>
<path d="M35.4,401.9 C35.97,405.35 37.62,416.25 38.8,422.6 C39.98,428.95 41.05,434.32 42.5,440 C43.95,445.68 45.83,451.13 47.5,456.7 C49.17,462.27 50.97,468.12 52.5,473.4 C54.03,478.68 54.88,484.05 56.7,488.4 C58.52,492.75 60.9,496.58 63.4,499.5 C65.9,502.42 68.65,504.45 71.7,505.9 C74.75,507.35 78.35,508.15 81.7,508.2 C85.05,508.25 87.62,507.55 91.8,506.2 C95.98,504.85 102.1,501.83 106.8,500.1 C111.5,498.37 114.87,496.8 120,495.8 C125.13,494.8 132.6,494.45 137.6,494.1 C142.6,493.75 145.62,493.75 150,493.7 C154.38,493.65 161.58,493.78 163.9,493.8" fill="none" stroke="#3e5fb4" stroke-width="1.5"/>
<path d="M35.6,488.3 C36.2,489.98 37.9,494.78 39.2,498.4 C40.5,502.02 41.6,506.12 43.4,510 C45.2,513.88 47.45,518.42 50,521.7 C52.55,524.98 55.63,527.7 58.7,529.7 C61.77,531.7 65.4,532.95 68.4,533.7 C71.4,534.45 74.33,534.25 76.7,534.2 C79.07,534.15 79.82,534.32 82.6,533.4 C85.38,532.48 89.37,530.98 93.4,528.7 C97.43,526.42 102.7,522.4 106.8,519.7 C110.9,517 114,514.58 118,512.5 C122,510.42 125.97,509.2 130.8,507.2 C135.63,505.2 141.48,502.3 147,500.5 C152.52,498.7 161.08,497.08 163.9,496.4" fill="none" stroke="#000" stroke-width="1.6"/>
<path d="M55,439 L62.2,446.2 M55,446.2 L62.2,439" stroke="#3e5fb4" stroke-width="1.4" fill="none"/>
<path d="M79,461.1 L86.2,468.3 M79,468.3 L86.2,461.1" stroke="#3e5fb4" stroke-width="1.4" fill="none"/>
<path d="M103.2,473.5 L110.4,480.7 M103.2,480.7 L110.4,473.5" stroke="#3e5fb4" stroke-width="1.4" fill="none"/>
<path d="M127.2,481.5 L134.4,488.7 M127.2,488.7 L134.4,481.5" stroke="#3e5fb4" stroke-width="1.4" fill="none"/>
<path d="M55.1,526.1 L62.3,533.3 M55.1,533.3 L62.3,526.1" stroke="#3e5fb4" stroke-width="1.4" fill="none"/>
<path d="M79,529.8 L86.2,537 M79,537 L86.2,529.8" stroke="#3e5fb4" stroke-width="1.4" fill="none"/>
<path d="M103.2,516.1 L110.4,523.3 M103.2,523.3 L110.4,516.1" stroke="#3e5fb4" stroke-width="1.4" fill="none"/>
<path d="M127.2,503.6 L134.4,510.8 M127.2,510.8 L134.4,503.6" stroke="#3e5fb4" stroke-width="1.4" fill="none"/>
<text x="23.8" y="391.7" font-size="10.8" text-anchor="start" fill="#000" textLength="6.4" lengthAdjust="spacingAndGlyphs">&#963;</text>
<text x="73.9" y="453.5" font-size="10.5" fill="#000">&#963;<tspan font-size="7.2" dy="1.2">Hil</tspan></text>
<text x="54.8" y="475.6" font-size="10.4" fill="#4a6cc0">&#963;<tspan font-size="7" dx="0.3" dy="1.3">tot</tspan></text>
<text x="98.6" y="536.6" font-size="10.5" fill="#000">&#963;<tspan font-size="7.2" dy="0.9">AI</tspan></text>
<line x1="278.8" y1="396" x2="278.8" y2="530.6" stroke="#707070" stroke-width="1.2" />
<path d="M278.9,393.3 L276.1,398.8 L281.7,398.8 Z" fill="#000"/>
<line x1="278.3" y1="530.2" x2="453" y2="530.2" stroke="#505050" stroke-width="1.1" />
<path d="M458.4,530.2 L452,527.4 L452,533 Z" fill="#000"/>
<path d="M278.7,530 L278.93,528.29 L278.99,526.51 L279.07,524.73 L279.16,522.95 L279.27,521.16 L279.4,519.37 L279.55,517.59 L279.72,515.8 L279.91,514.02 L280.13,512.24 L280.37,510.46 L280.64,508.69 L280.94,506.93 L281.26,505.18 L281.61,503.43 L281.99,501.69 L282.39,499.97 L282.84,498.25 L283.31,496.55 L283.81,494.86 L284.35,493.19 L284.93,491.53 L285.54,489.89 L286.19,488.27 L286.88,486.67 L287.6,485.09 L288.37,483.53 L289.17,481.99 L290.02,480.48 L290.91,478.99 L291.85,477.52 L292.83,476.08 L293.86,474.68 L294.93,473.29 L296.05,471.94 L297.22,470.62 L298.44,469.34 L299.7,468.08 L301,466.86 L302.34,465.68 L303.73,464.53 L305.15,463.42 L306.6,462.35 L308.09,461.32 L309.6,460.32 L311.15,459.37 L312.72,458.47 L314.32,457.61 L315.95,456.79 L317.59,456.02 L319.25,455.3 L320.93,454.62 L322.63,454 L324.34,453.42 L326.06,452.9 L327.79,452.43 L329.53,452.01 L331.27,451.65 L333.02,451.35 L334.77,451.1 L336.52,450.92 L338.27,450.79 L340.01,450.72 L341.75,450.71 L343.49,450.77 L345.21,450.89 L346.92,451.07 L348.62,451.32 L350.31,451.63 L351.98,451.99 L353.65,452.41 L355.31,452.88 L356.96,453.4 L358.6,453.97 L360.23,454.58 L361.85,455.23 L363.46,455.92 L365.07,456.65 L366.67,457.42 L368.25,458.21 L369.84,459.03 L371.41,459.89 L372.98,460.76 L374.54,461.66 L376.1,462.57 L377.65,463.5 L379.19,464.45 L380.73,465.4 L382.27,466.37 L383.8,467.34 L385.32,468.32 L386.84,469.29 L388.36,470.27 L389.87,471.24 L391.38,472.2 L392.89,473.16 L394.4,474.1 L395.91,475.04 L397.42,475.96 L398.93,476.86 L400.44,477.75 L401.96,478.63 L403.49,479.48 L405.02,480.31 L406.57,481.12 L408.12,481.91 L409.69,482.67 L411.26,483.41 L412.86,484.11 L414.46,484.79 L416.09,485.44 L417.73,486.05 L419.39,486.63 L421.07,487.18 L422.77,487.68 L424.49,488.15 L426.24,488.58 L428.01,488.96 L429.8,489.1" fill="none" stroke="#000" stroke-width="1.6"/>
<path d="M292.7,468.8 L299.9,476 M292.7,476 L299.9,468.8" stroke="#3e5fb4" stroke-width="1.4" fill="none"/>
<path d="M347.8,448 L355,455.2 M347.8,455.2 L355,448" stroke="#3e5fb4" stroke-width="1.4" fill="none"/>
<path d="M376.9,461.8 L384.1,469 M376.9,469 L384.1,461.8" stroke="#3e5fb4" stroke-width="1.4" fill="none"/>
<path d="M401.1,475.8 L408.3,483 M401.1,483 L408.3,475.8" stroke="#3e5fb4" stroke-width="1.4" fill="none"/>
<text x="267.3" y="398.3" font-size="8.5" text-anchor="start" fill="#000" >&#964;</text>
<text x="451.9" y="543.9" font-size="10" text-anchor="start" fill="#000" textLength="7.3" lengthAdjust="spacingAndGlyphs">&#916;</text>
</svg>
</body></html>
